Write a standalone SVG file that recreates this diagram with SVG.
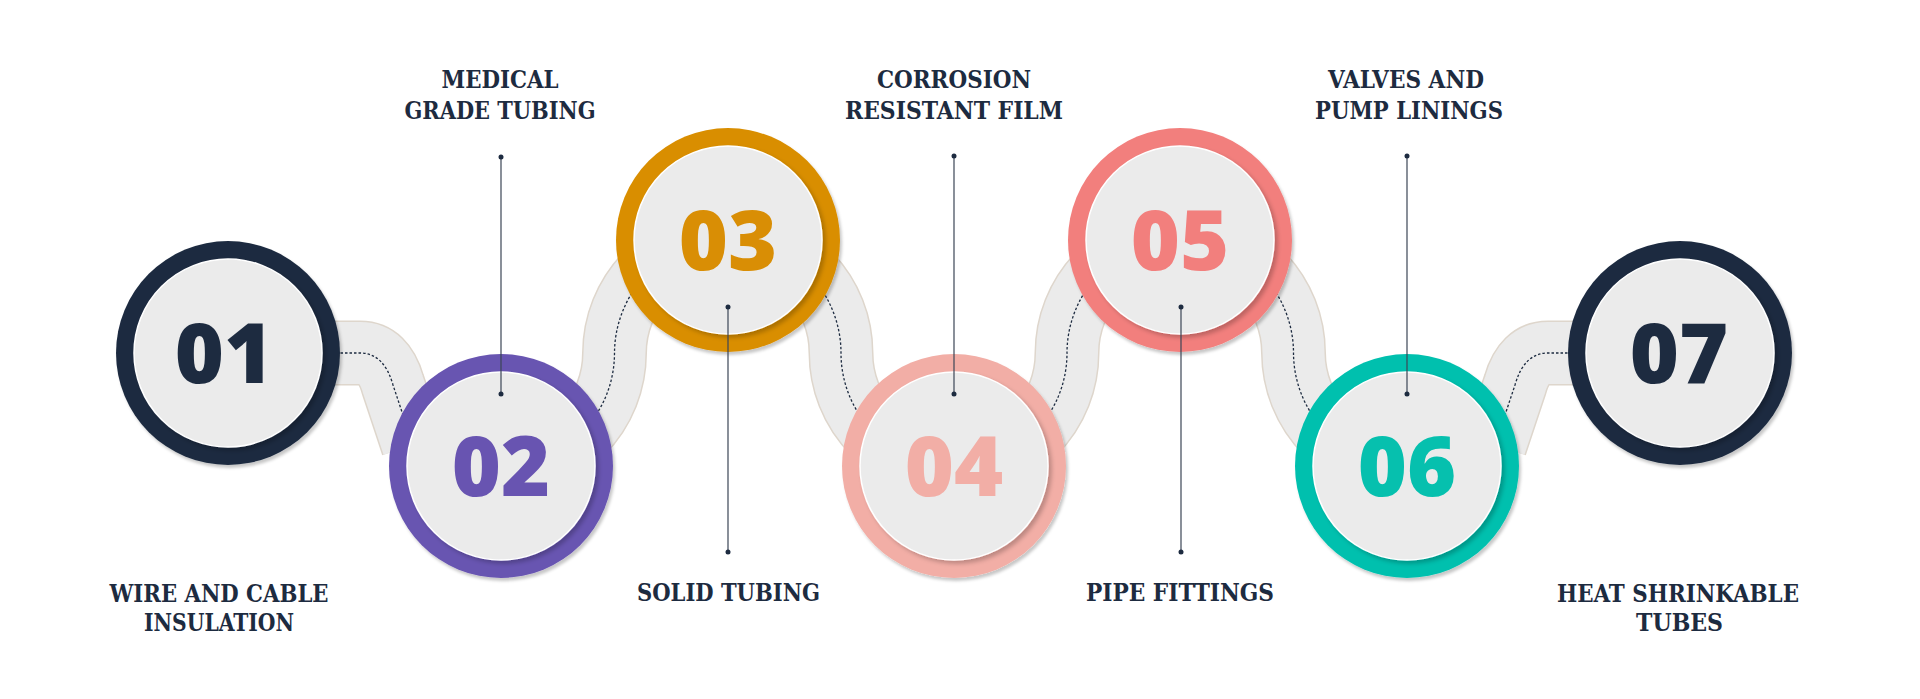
<svg xmlns="http://www.w3.org/2000/svg" width="1920" height="699" viewBox="0 0 1920 699">
  <defs>
    <style>
      .band-edge { fill: none; stroke: #ded6cc; stroke-width: 65; stroke-linejoin: round; }
      .band { fill: none; stroke: #ebebeb; stroke-width: 62; stroke-linejoin: round; }
      .dots { fill: none; stroke: #1d2b40; stroke-width: 1.3; stroke-dasharray: 2.5 2; }
      .inner { fill: #ebebeb; stroke: #ffffff; stroke-width: 1.5; filter: url(#innerShadow); }
      .ring { filter: url(#outerShadow); }
      .num { font-family: "Open Sans", "Noto Sans", sans-serif; font-weight: 800; font-size: 84px; text-anchor: middle; }
      .lbl { font-family: "DejaVu Serif Condensed", "DejaVu Serif", serif; font-stretch: condensed; font-weight: bold; font-size: 25px; fill: #1d2b40; text-anchor: middle; }
      .lead { stroke: #3b4556; stroke-width: 1.2; }
      .dot { fill: #1d2b40; }
    </style>
    <filter id="outerShadow" x="-20%" y="-20%" width="140%" height="140%">
      <feDropShadow dx="2" dy="3" stdDeviation="1.5" flood-color="#000000" flood-opacity="0.22"/>
    </filter>
    <filter id="innerShadow" x="-20%" y="-20%" width="140%" height="140%">
      <feDropShadow dx="3" dy="3" stdDeviation="2" flood-color="#000000" flood-opacity="0.22"/>
    </filter>
  </defs>

  <g id="connectors">
    <path class="band-edge" d="M228,353 H360 Q384,353 393,385 L413,445"/>
    <path class="band-edge" d="M501,466 A113,113 0 0 0 614.5,353 A113.5,113.5 0 0 1 728,240 A113,113 0 0 1 841,353 A113,113 0 0 0 954,466 A113,113 0 0 0 1067,353 A113,113 0 0 1 1180,240 A113,113 0 0 1 1293.5,353 A113.5,113.5 0 0 0 1407,466"/>
    <path class="band-edge" d="M1680,353 H1548 Q1524,353 1515,385 L1495,445"/>
    <path class="band" d="M228,353 H360 Q384,353 393,385 L413,445"/>
    <path class="band" d="M501,466 A113,113 0 0 0 614.5,353 A113.5,113.5 0 0 1 728,240 A113,113 0 0 1 841,353 A113,113 0 0 0 954,466 A113,113 0 0 0 1067,353 A113,113 0 0 1 1180,240 A113,113 0 0 1 1293.5,353 A113.5,113.5 0 0 0 1407,466"/>
    <path class="band" d="M1680,353 H1548 Q1524,353 1515,385 L1495,445"/>
    <path class="dots" d="M228,353 H360 Q384,353 393,385 L413,445"/>
    <path class="dots" d="M501,466 A113,113 0 0 0 614.5,353 A113.5,113.5 0 0 1 728,240 A113,113 0 0 1 841,353 A113,113 0 0 0 954,466 A113,113 0 0 0 1067,353 A113,113 0 0 1 1180,240 A113,113 0 0 1 1293.5,353 A113.5,113.5 0 0 0 1407,466"/>
    <path class="dots" d="M1680,353 H1548 Q1524,353 1515,385 L1495,445"/>
  </g>

  <g id="node-01">
    <circle class="ring" cx="228" cy="353" r="112" fill="#1d2b40"/>
    <circle class="inner" cx="228" cy="353" r="94"/>
    <text class="num" x="224" y="383" fill="#1d2b40">01</text>
    <text class="lbl" x="219" y="601.5" textLength="219" lengthAdjust="spacingAndGlyphs">WIRE AND CABLE</text>
    <text class="lbl" x="219" y="631" textLength="150" lengthAdjust="spacingAndGlyphs">INSULATION</text>
  </g>

  <g id="node-02">
    <circle class="ring" cx="501" cy="466" r="112" fill="#6854b1"/>
    <circle class="inner" cx="501" cy="466" r="94"/>
    <text class="num" x="501" y="496" fill="#6854b1">02</text>
    <line class="lead" x1="501" y1="157" x2="501" y2="394"/>
    <circle class="dot" cx="501" cy="157" r="2.5"/>
    <circle class="dot" cx="501" cy="394" r="2.5"/>
    <text class="lbl" x="500" y="87.5" textLength="117" lengthAdjust="spacingAndGlyphs">MEDICAL</text>
    <text class="lbl" x="500" y="119" textLength="191" lengthAdjust="spacingAndGlyphs">GRADE TUBING</text>
  </g>

  <g id="node-03">
    <circle class="ring" cx="728" cy="240" r="112" fill="#d98e05"/>
    <circle class="inner" cx="728" cy="240" r="94"/>
    <text class="num" x="728" y="270" fill="#d98e05">03</text>
    <line class="lead" x1="728" y1="307" x2="728" y2="552"/>
    <circle class="dot" cx="728" cy="307" r="2.5"/>
    <circle class="dot" cx="728" cy="552" r="2.5"/>
    <text class="lbl" x="728.5" y="601" textLength="183" lengthAdjust="spacingAndGlyphs">SOLID TUBING</text>
  </g>

  <g id="node-04">
    <circle class="ring" cx="954" cy="466" r="112" fill="#f2aea6"/>
    <circle class="inner" cx="954" cy="466" r="94"/>
    <text class="num" x="954" y="496" fill="#f2aea6">04</text>
    <line class="lead" x1="954" y1="156" x2="954" y2="394"/>
    <circle class="dot" cx="954" cy="156" r="2.5"/>
    <circle class="dot" cx="954" cy="394" r="2.5"/>
    <text class="lbl" x="954" y="87.5" textLength="154" lengthAdjust="spacingAndGlyphs">CORROSION</text>
    <text class="lbl" x="954" y="119" textLength="218" lengthAdjust="spacingAndGlyphs">RESISTANT FILM</text>
  </g>

  <g id="node-05">
    <circle class="ring" cx="1180" cy="240" r="112" fill="#f27f7d"/>
    <circle class="inner" cx="1180" cy="240" r="94"/>
    <text class="num" x="1180" y="270" fill="#f27f7d">05</text>
    <line class="lead" x1="1181" y1="307" x2="1181" y2="552"/>
    <circle class="dot" cx="1181" cy="307" r="2.5"/>
    <circle class="dot" cx="1181" cy="552" r="2.5"/>
    <text class="lbl" x="1180" y="601" textLength="188" lengthAdjust="spacingAndGlyphs">PIPE FITTINGS</text>
  </g>

  <g id="node-06">
    <circle class="ring" cx="1407" cy="466" r="112" fill="#06c0ae"/>
    <circle class="inner" cx="1407" cy="466" r="94"/>
    <text class="num" x="1407" y="496" fill="#06c0ae">06</text>
    <line class="lead" x1="1407" y1="156" x2="1407" y2="394"/>
    <circle class="dot" cx="1407" cy="156" r="2.5"/>
    <circle class="dot" cx="1407" cy="394" r="2.5"/>
    <text class="lbl" x="1406" y="87.5" textLength="156" lengthAdjust="spacingAndGlyphs">VALVES AND</text>
    <text class="lbl" x="1409" y="119" textLength="188" lengthAdjust="spacingAndGlyphs">PUMP LININGS</text>
  </g>

  <g id="node-07">
    <circle class="ring" cx="1680" cy="353" r="112" fill="#1d2b40"/>
    <circle class="inner" cx="1680" cy="353" r="94"/>
    <text class="num" x="1679" y="383" fill="#1d2b40">07</text>
    <text class="lbl" x="1678" y="601.5" textLength="242" lengthAdjust="spacingAndGlyphs">HEAT SHRINKABLE</text>
    <text class="lbl" x="1679.5" y="631" textLength="87" lengthAdjust="spacingAndGlyphs">TUBES</text>
  </g>
</svg>
